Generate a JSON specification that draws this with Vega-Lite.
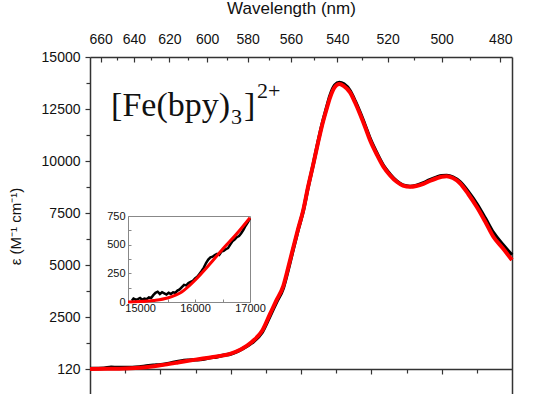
{
  "$schema": "https://vega.github.io/schema/vega-lite/v6.json",
  "width": 422,
  "height": 338,
  "autosize": "none",
  "padding": {"left": 90, "top": 57, "right": 28, "bottom": 0},
  "background": "white",
  "config": {
    "view": {"stroke": null},
    "font": "Liberation Sans",
    "axis": {
      "grid": false,
      "domainColor": "#333",
      "domainWidth": 1.5,
      "tickColor": "#333",
      "tickWidth": 1.2,
      "labelColor": "#111",
      "labelFont": "Liberation Sans",
      "labelFontSize": 14,
      "labelFlush": false,
      "labelOverlap": false,
      "titleFont": "Liberation Sans",
      "titleFontWeight": "normal",
      "titleColor": "#111",
      "titleFontSize": 15
    }
  },
  "datasets": {
    "mainExp": [
      {"w": 15000, "e": 20}, {"w": 15100, "e": 25}, {"w": 15200, "e": 35}, {"w": 15300, "e": 80}, {"w": 15400, "e": 70},
      {"w": 15500, "e": 70}, {"w": 15600, "e": 75}, {"w": 15700, "e": 100}, {"w": 15800, "e": 140}, {"w": 15900, "e": 175},
      {"w": 16000, "e": 205}, {"w": 16100, "e": 250}, {"w": 16200, "e": 330}, {"w": 16300, "e": 390}, {"w": 16400, "e": 420},
      {"w": 16500, "e": 440}, {"w": 16600, "e": 470}, {"w": 16700, "e": 540}, {"w": 16800, "e": 580}, {"w": 16900, "e": 660},
      {"w": 17000, "e": 720}, {"w": 17150, "e": 940}, {"w": 17300, "e": 1250}, {"w": 17450, "e": 1780}, {"w": 17560, "e": 2550},
      {"w": 17650, "e": 3200}, {"w": 17749, "e": 3900}, {"w": 17820, "e": 4800}, {"w": 17891, "e": 5780}, {"w": 17960, "e": 6700},
      {"w": 18033, "e": 7620}, {"w": 18100, "e": 8720}, {"w": 18175, "e": 9850}, {"w": 18240, "e": 10880}, {"w": 18295, "e": 11700},
      {"w": 18360, "e": 12520}, {"w": 18413, "e": 13150}, {"w": 18480, "e": 13650}, {"w": 18545, "e": 13780}, {"w": 18610, "e": 13700},
      {"w": 18697, "e": 13380}, {"w": 18770, "e": 12880}, {"w": 18840, "e": 12330}, {"w": 18910, "e": 11730}, {"w": 18982, "e": 11080},
      {"w": 19080, "e": 10370}, {"w": 19171, "e": 9790}, {"w": 19270, "e": 9350}, {"w": 19361, "e": 9030}, {"w": 19450, "e": 8840},
      {"w": 19550, "e": 8780}, {"w": 19640, "e": 8830}, {"w": 19740, "e": 8950}, {"w": 19830, "e": 9090}, {"w": 19930, "e": 9220},
      {"w": 20000, "e": 9290}, {"w": 20072, "e": 9300}, {"w": 20160, "e": 9230}, {"w": 20261, "e": 9000}, {"w": 20380, "e": 8520},
      {"w": 20498, "e": 7950}, {"w": 20620, "e": 7250}, {"w": 20735, "e": 6560}, {"w": 20870, "e": 5980}, {"w": 21000, "e": 5480}
    ],
    "mainFit": [
      {"w": 15000, "e": 0}, {"w": 15250, "e": 10}, {"w": 15500, "e": 28}, {"w": 15750, "e": 75}, {"w": 16000, "e": 180},
      {"w": 16250, "e": 310}, {"w": 16500, "e": 450}, {"w": 16750, "e": 580}, {"w": 17000, "e": 740}, {"w": 17150, "e": 950},
      {"w": 17300, "e": 1300}, {"w": 17450, "e": 1850}, {"w": 17560, "e": 2650}, {"w": 17650, "e": 3300}, {"w": 17749, "e": 4000},
      {"w": 17820, "e": 4900}, {"w": 17891, "e": 5850}, {"w": 17960, "e": 6750}, {"w": 18033, "e": 7650}, {"w": 18100, "e": 8750},
      {"w": 18175, "e": 9850}, {"w": 18240, "e": 10850}, {"w": 18295, "e": 11650}, {"w": 18360, "e": 12450}, {"w": 18413, "e": 13050},
      {"w": 18480, "e": 13550}, {"w": 18545, "e": 13700}, {"w": 18610, "e": 13600}, {"w": 18697, "e": 13300}, {"w": 18770, "e": 12800},
      {"w": 18840, "e": 12250}, {"w": 18910, "e": 11650}, {"w": 18982, "e": 11000}, {"w": 19080, "e": 10300}, {"w": 19171, "e": 9730},
      {"w": 19270, "e": 9300}, {"w": 19361, "e": 9000}, {"w": 19450, "e": 8820}, {"w": 19550, "e": 8760}, {"w": 19640, "e": 8800},
      {"w": 19740, "e": 8900}, {"w": 19830, "e": 9040}, {"w": 19930, "e": 9170}, {"w": 20000, "e": 9240}, {"w": 20072, "e": 9270},
      {"w": 20160, "e": 9180}, {"w": 20261, "e": 8930}, {"w": 20380, "e": 8400}, {"w": 20498, "e": 7800}, {"w": 20620, "e": 7080},
      {"w": 20735, "e": 6360}, {"w": 20870, "e": 5800}, {"w": 21000, "e": 5240}
    ],
    "insetExp": [
      {"w": 14850, "e": 10}, {"w": 14880, "e": 30}, {"w": 14920, "e": 20}, {"w": 14960, "e": 25}, {"w": 15000, "e": 35},
      {"w": 15040, "e": 20}, {"w": 15080, "e": 30}, {"w": 15120, "e": 25}, {"w": 15160, "e": 40}, {"w": 15200, "e": 35},
      {"w": 15240, "e": 60}, {"w": 15280, "e": 80}, {"w": 15320, "e": 90}, {"w": 15360, "e": 70}, {"w": 15400, "e": 85},
      {"w": 15440, "e": 75}, {"w": 15480, "e": 65}, {"w": 15520, "e": 80}, {"w": 15560, "e": 70}, {"w": 15600, "e": 85},
      {"w": 15640, "e": 80}, {"w": 15680, "e": 100}, {"w": 15720, "e": 110}, {"w": 15760, "e": 130}, {"w": 15800, "e": 150},
      {"w": 15840, "e": 145}, {"w": 15880, "e": 165}, {"w": 15920, "e": 175}, {"w": 15960, "e": 185}, {"w": 16000, "e": 205},
      {"w": 16040, "e": 220}, {"w": 16080, "e": 245}, {"w": 16120, "e": 270}, {"w": 16160, "e": 300}, {"w": 16200, "e": 340},
      {"w": 16240, "e": 370}, {"w": 16280, "e": 390}, {"w": 16320, "e": 395}, {"w": 16360, "e": 410}, {"w": 16400, "e": 420},
      {"w": 16440, "e": 410}, {"w": 16480, "e": 440}, {"w": 16520, "e": 445}, {"w": 16560, "e": 460}, {"w": 16600, "e": 470},
      {"w": 16640, "e": 500}, {"w": 16680, "e": 530}, {"w": 16720, "e": 545}, {"w": 16760, "e": 565}, {"w": 16800, "e": 575},
      {"w": 16840, "e": 600}, {"w": 16880, "e": 630}, {"w": 16920, "e": 665}, {"w": 16960, "e": 695}, {"w": 17000, "e": 730}
    ],
    "insetFit": [
      {"w": 14780, "e": 0}, {"w": 15000, "e": 4}, {"w": 15250, "e": 14}, {"w": 15500, "e": 35}, {"w": 15750, "e": 85},
      {"w": 16000, "e": 190}, {"w": 16250, "e": 320}, {"w": 16500, "e": 460}, {"w": 16750, "e": 590}, {"w": 17000, "e": 735}
    ]
  },
  "layer": [
    {
      "layer": [
        {
          "data": {"name": "mainExp"},
          "mark": {"type": "line", "color": "#000000", "strokeWidth": 3.5, "interpolate": "monotone"},
          "encoding": {
            "x": {
              "field": "w", "type": "quantitative",
              "scale": {"domain": [15000, 21000], "nice": false, "zero": false},
              "axis": {
                "orient": "bottom", "offset": -26, "title": null, "labels": false,
                "values": [15500, 16000, 16500, 17000, 17500, 18000, 18500, 19000, 19500, 20000, 20500],
                "tickSize": {"condition": {"test": "datum.value % 1000 === 0", "value": 5}, "value": 4}
              }
            },
            "y": {
              "field": "e", "type": "quantitative",
              "scale": {"domain": [-1250, 15000], "nice": false, "zero": false},
              "axis": {
                "orient": "left", "title": "ε (M⁻¹ cm⁻¹)", "titlePadding": 18,
                "values": [-1250, 0, 1250, 2500, 3750, 5000, 6250, 7500, 8750, 10000, 11250, 12500, 13750, 15000],
                "labelExpr": "datum.value === 0 ? '120' : (datum.value > 0 && datum.value % 2500 === 0 ? format(datum.value, 'd') : '')",
                "labelPadding": 5,
                "tickSize": {"condition": {"test": "datum.value % 2500 === 0", "value": 5}, "value": 4}
              }
            }
          }
        },
        {
          "data": {"name": "mainFit"},
          "mark": {"type": "line", "color": "#ff0000", "strokeWidth": 4, "interpolate": "monotone"},
          "encoding": {
            "x": {
              "field": "w", "type": "quantitative",
              "scale": {"domain": [15000, 21000], "nice": false, "zero": false},
              "axis": {
                "orient": "top", "title": "Wavelength (nm)", "titleFontSize": 17, "titlePadding": 13, "titleX": 201,
                "values": [15151.515, 15384.615, 15625, 15873.016, 16129.032, 16393.443, 16666.667, 16949.153, 17241.379, 17543.860, 17857.143, 18181.818, 18518.519, 18867.925, 19230.769, 19607.843, 20000, 20408.163, 20833.333],
                "labelExpr": "round(1e7 / datum.value) % 20 === 0 ? format(round(1e7 / datum.value), 'd') : ''",
                "labelPadding": 16,
                "tickSize": {"condition": {"test": "round(1e7 / datum.value) % 20 === 0", "value": -5}, "value": -3}
              }
            },
            "y": {
              "field": "e", "type": "quantitative",
              "scale": {"domain": [-1250, 15000], "nice": false, "zero": false},
              "axis": {"orient": "right", "title": null, "labels": false, "ticks": false}
            }
          }
        },
        {
          "data": {"values": [{"label": "[Fe(bpy)"}]},
          "mark": {"type": "text", "font": "Liberation Serif", "fontSize": 34, "align": "left", "baseline": "alphabetic", "color": "#111"},
          "encoding": {
            "x": {"datum": 15300, "type": "quantitative", "axis": null},
            "y": {"datum": 12164, "type": "quantitative", "axis": null},
            "text": {"field": "label"}
          }
        },
        {
          "data": {"values": [{"label": "3"}]},
          "mark": {"type": "text", "font": "Liberation Serif", "fontSize": 22, "align": "left", "baseline": "alphabetic", "color": "#111", "dx": 120, "dy": 8},
          "encoding": {
            "x": {"datum": 15300, "type": "quantitative", "axis": null},
            "y": {"datum": 12164, "type": "quantitative", "axis": null},
            "text": {"field": "label"}
          }
        },
        {
          "data": {"values": [{"label": "]"}]},
          "mark": {"type": "text", "font": "Liberation Serif", "fontSize": 34, "align": "left", "baseline": "alphabetic", "color": "#111", "dx": 133},
          "encoding": {
            "x": {"datum": 15300, "type": "quantitative", "axis": null},
            "y": {"datum": 12164, "type": "quantitative", "axis": null},
            "text": {"field": "label"}
          }
        },
        {
          "data": {"values": [{"label": "2+"}]},
          "mark": {"type": "text", "font": "Liberation Serif", "fontSize": 22, "align": "left", "baseline": "alphabetic", "color": "#111", "dx": 146, "dy": -18},
          "encoding": {
            "x": {"datum": 15300, "type": "quantitative", "axis": null},
            "y": {"datum": 12164, "type": "quantitative", "axis": null},
            "text": {"field": "label"}
          }
        }
      ]
    },
    {
      "layer": [
        {
          "data": {"name": "insetExp"},
          "mark": {"type": "line", "color": "#000000", "strokeWidth": 2.5},
          "encoding": {
            "x": {
              "field": "w", "type": "quantitative",
              "scale": {"domain": [14780, 17000], "range": [38, 160], "nice": false, "zero": false},
              "axis": {
                "orient": "bottom", "offset": -93, "title": null,
                "values": [15000, 15500, 16000, 16500, 17000],
                "labelExpr": "datum.value % 1000 === 0 ? format(datum.value, 'd') : ''",
                "labelFontSize": 11, "labelPadding": 3,
                "domainColor": "#888", "domainWidth": 1, "tickColor": "#888", "tickWidth": 1,
                "tickSize": -3
              }
            },
            "y": {
              "field": "e", "type": "quantitative",
              "scale": {"domain": [0, 750], "range": [245, 159], "nice": false, "zero": false},
              "axis": {
                "orient": "left", "offset": -38, "title": null,
                "values": [0, 125, 250, 375, 500, 625, 750],
                "labelExpr": "datum.value % 250 === 0 ? format(datum.value, 'd') : ''",
                "labelFontSize": 11, "labelPadding": 6,
                "domainColor": "#888", "domainWidth": 1, "tickColor": "#888", "tickWidth": 1,
                "tickSize": -3
              }
            }
          }
        },
        {
          "data": {"name": "insetFit"},
          "mark": {"type": "line", "color": "#ff0000", "strokeWidth": 3, "interpolate": "monotone"},
          "encoding": {
            "x": {
              "field": "w", "type": "quantitative",
              "scale": {"domain": [14780, 17000], "range": [38, 160], "nice": false, "zero": false},
              "axis": {"orient": "top", "offset": -159, "title": null, "labels": false, "ticks": false, "domainColor": "#888", "domainWidth": 1}
            },
            "y": {
              "field": "e", "type": "quantitative",
              "scale": {"domain": [0, 750], "range": [245, 159], "nice": false, "zero": false},
              "axis": {"orient": "right", "offset": -262, "title": null, "labels": false, "ticks": false, "domainColor": "#888", "domainWidth": 1}
            }
          }
        }
      ]
    }
  ],
  "resolve": {"scale": {"x": "independent", "y": "independent"}}
}
